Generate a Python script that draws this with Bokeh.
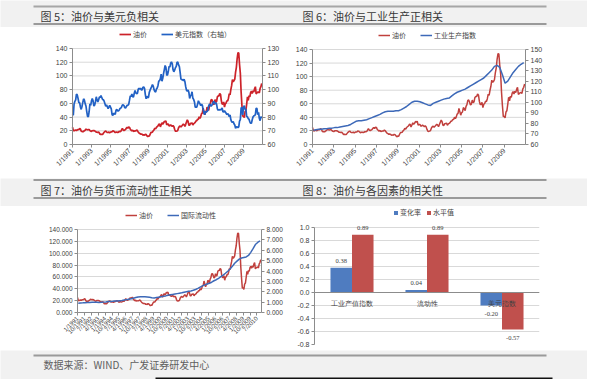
import re
import numpy as np
from bokeh.plotting import figure
from bokeh.models import (Range1d, LinearAxis, FixedTicker, Legend, LegendItem, Span, Label,
                          ColumnDataSource, FactorRange, Spacer, NumeralTickFormatter, BoxAnnotation)
from bokeh.layouts import row, column
from bokeh.transform import dodge
from bokeh.embed import file_html
from bokeh.resources import INLINE

# ---------------- data ----------------
start_year = 1991
oil = [25.2, 20.5, 19.9, 20.8, 21.2, 20.2, 21.4, 21.7, 21.9, 23.2, 22.5, 19.5,
       18.8, 19.0, 18.9, 20.2, 20.9, 22.4, 21.8, 21.4, 21.9, 21.7, 20.3, 19.4,
       19.1, 20.1, 20.3, 20.3, 19.9, 19.1, 17.9, 18.0, 17.5, 18.1, 16.7, 14.5,
       15.0, 14.8, 14.7, 16.4, 17.9, 19.1, 19.7, 18.4, 17.5, 17.7, 18.1, 17.2,
       18.0, 18.6, 18.5, 19.9, 19.7, 18.5, 17.3, 18.0, 18.2, 17.4, 18.0, 19.0,
       18.9, 19.1, 21.3, 23.5, 21.2, 20.4, 21.3, 21.9, 23.9, 24.9, 23.7, 25.4,
       25.2, 22.2, 21.0, 19.7, 20.8, 19.2, 19.6, 19.9, 19.8, 21.3, 20.2, 18.3,
       16.7, 16.1, 15.0, 15.4, 14.9, 13.7, 14.2, 13.5, 15.0, 14.4, 12.9, 11.3,
       12.5, 12.0, 14.7, 17.3, 17.8, 17.9, 20.1, 21.3, 23.9, 22.6, 25.0, 26.1,
       27.2, 29.4, 29.9, 25.7, 28.8, 31.8, 29.7, 31.2, 33.9, 33.1, 34.4, 28.5,
       29.6, 29.6, 27.2, 27.4, 28.6, 27.6, 26.4, 27.4, 26.2, 22.2, 19.6, 19.3,
       19.7, 20.7, 24.4, 26.2, 27.0, 25.5, 26.9, 28.4, 29.7, 28.9, 26.3, 29.4,
       32.9, 35.9, 33.6, 28.3, 28.1, 30.7, 30.8, 31.6, 28.3, 30.3, 31.1, 32.2,
       34.3, 34.7, 36.8, 36.7, 40.3, 38.0, 40.7, 44.9, 45.9, 53.1, 48.5, 43.3,
       46.8, 48.0, 54.3, 53.0, 49.8, 56.3, 58.7, 65.0, 65.6, 62.4, 58.3, 59.4,
       65.5, 61.6, 62.7, 69.4, 70.8, 70.9, 74.4, 73.0, 63.8, 58.9, 59.1, 62.0,
       54.5, 59.3, 60.4, 63.9, 63.5, 67.5, 74.1, 72.4, 79.9, 85.8, 94.8, 91.7,
       93.0, 95.4, 105.5, 112.6, 125.4, 133.9, 133.4, 116.7, 104.1, 76.6, 57.3, 41.1,
       41.7, 39.1, 47.9, 49.7, 59.0, 69.6, 64.2, 71.1, 69.4, 75.7, 78.0, 74.5,
       78.3, 76.4, 81.2, 84.3, 73.7, 75.3, 76.3, 76.6, 75.2, 81.9, 84.3, 89.2]

usd = [82.2, 81.3, 89.5, 91.5, 92.5, 96.8, 96.2, 93.6, 90.6, 90.6, 87.4, 85.6,
       87.7, 90.7, 93.3, 92.4, 89.8, 88.1, 84.0, 80.6, 80.2, 83.9, 89.6, 88.6,
       91.8, 93.5, 91.9, 88.0, 88.8, 91.2, 94.8, 92.6, 91.0, 92.6, 94.6, 94.4,
       95.7, 94.1, 92.9, 92.6, 91.6, 89.7, 87.8, 88.9, 87.5, 86.1, 87.2, 88.6,
       87.3, 86.0, 81.8, 81.1, 82.8, 82.3, 82.0, 85.1, 85.6, 84.5, 84.4, 85.1,
       86.3, 86.5, 87.4, 88.8, 89.0, 88.4, 86.9, 86.5, 87.6, 88.6, 88.6, 89.2,
       92.3, 95.5, 95.0, 96.8, 94.8, 94.6, 97.4, 99.4, 97.6, 97.0, 97.3, 100.3,
       101.1, 100.3, 101.1, 99.9, 99.9, 101.7, 101.9, 100.9, 96.4, 93.3, 95.2, 94.2,
       94.3, 98.0, 99.6, 101.0, 102.2, 103.7, 102.6, 100.0, 98.7, 98.2, 100.4, 101.2,
       103.1, 106.3, 106.5, 108.0, 111.3, 106.1, 108.2, 111.7, 114.6, 117.6, 116.2, 110.6,
       110.7, 113.4, 116.9, 116.4, 119.3, 120.3, 118.9, 114.6, 113.0, 114.2, 116.0, 116.8,
       119.8, 120.2, 118.0, 116.8, 112.4, 107.7, 107.3, 107.1, 106.7, 107.6, 105.8, 102.2,
       99.6, 98.9, 99.7, 98.0, 93.6, 95.4, 96.2, 98.4, 93.9, 92.9, 91.2, 87.3,
       87.2, 87.3, 89.3, 91.9, 90.7, 89.6, 88.4, 89.4, 88.6, 85.5, 82.9, 81.7,
       84.2, 83.5, 84.2, 84.8, 88.1, 89.5, 89.0, 87.8, 88.6, 89.7, 91.3, 91.2,
       89.4, 90.6, 89.4, 86.0, 85.0, 85.5, 85.1, 85.5, 85.5, 86.7, 83.9, 83.7,
       84.6, 83.6, 82.9, 81.7, 82.4, 82.0, 80.3, 81.5, 78.1, 76.6, 76.2, 76.7,
       75.1, 74.2, 71.8, 72.9, 72.9, 72.4, 72.9, 77.0, 78.2, 86.5, 87.2, 81.5,
       86.9, 88.4, 85.6, 85.9, 80.5, 80.1, 78.9, 78.4, 76.5, 75.5, 75.5, 78.0,
       80.0, 80.9, 81.1, 81.8, 86.5, 86.2, 81.7, 83.5, 79.0, 77.4, 80.3, 79.0]

# quarterly industrial production index (right axis of chart 6)
ip_q = [73.5, 74.0, 74.5, 74.5, 75.0, 75.0, 75.5, 75.5, 76.0, 76.0, 76.5, 77.0,
        77.5, 78.0, 79.0, 80.5, 82.0, 82.5, 82.5, 83.0, 83.5, 84.5, 85.5, 86.5,
        87.5, 88.5, 90.0, 91.0, 91.5, 91.5, 91.5, 92.0, 92.0, 93.0, 94.5, 96.0,
        98.0, 100.0, 101.0, 101.0, 100.5, 99.5, 98.5, 97.5, 97.0, 99.0, 100.0, 101.0,
        102.0, 103.0, 103.5, 104.0, 106.0, 108.0, 109.5, 110.5, 111.5, 112.5, 114.0, 115.5,
        117.0, 118.5, 120.0, 121.5, 123.0, 125.5, 128.0, 130.5, 134.0, 135.0, 133.0, 126.0,
        118.0, 120.0, 124.0, 128.0, 131.0, 134.0, 136.0, 137.5]

# quarterly global liquidity (right axis of chart 7)
liq_q = [0.90, 0.92, 0.93, 0.95, 0.96, 0.97, 0.98, 0.98, 0.98, 0.97, 0.98, 1.00,
         1.02, 1.05, 1.07, 1.08, 1.10, 1.12, 1.14, 1.16, 1.20, 1.24, 1.28, 1.32,
         1.38, 1.44, 1.50, 1.52, 1.53, 1.52, 1.50, 1.46, 1.42, 1.40, 1.44, 1.48,
         1.52, 1.56, 1.60, 1.66, 1.70, 1.74, 1.78, 1.82, 1.86, 1.90, 1.96, 2.00,
         2.04, 2.08, 2.14, 2.22, 2.32, 2.44, 2.56, 2.66, 2.74, 2.82, 2.92, 3.06,
         3.16, 3.30, 3.45, 3.60, 3.78, 3.98, 4.20, 4.45, 4.75, 4.95, 5.15, 5.25,
         5.30, 5.35, 5.50, 5.80, 6.15, 6.55, 6.75, 6.90]

factors = ["工业产值指数", "流动性", "美元指数"]
change_rate = [0.38, 0.04, -0.20]
level_value = [0.89, 0.89, -0.57]

years_2 = list(range(1991, 2010, 2))          # tick years for charts 5, 6
tick_months_7 = list(range(0, 240, 9))         # tick months for chart 7
left_ticks = list(range(0, 141, 20))

titles = ["图 5：油价与美元负相关", "图 6：油价与工业生产正相关",
          "图 7：油价与货币流动性正相关", "图 8：油价与各因素的相关性"]
source_text = "数据来源：WIND、广发证券研发中心"

# ---------------- style ----------------
BG = "#f1f1f1"
RED5, BLUE5 = "#CC2229", "#2261C4"
RED, BLUE = "#C0403D", "#3D69B8"
BAR_BLUE, BAR_RED = "#4F7CC0", "#C0504D"
GRID = "#d9d9d9"
CJK = "Noto Sans CJK SC"
NUM = "Liberation Sans"
W = 587

xm = start_year + np.arange(len(oil)) / 12.0
xq = start_year + (np.arange(len(ip_q)) * 3 + 1) / 12.0


def vpad(v0, v1, px1, px0, frame_top, frame_bottom):
    """Vertical range: v1 sits px1, v0 sits px0 pixels below the canvas top."""
    k = (px0 - px1) / (v1 - v0)
    return v0 - (frame_bottom - px0) / k, v1 + (px1 - frame_top) / k


def hpad(v0, v1, px0, px1, frame_left, frame_right):
    """Horizontal range: v0 sits px0, v1 sits px1 pixels right of the canvas left."""
    k = (px1 - px0) / (v1 - v0)
    return v0 - (px0 - frame_left) / k, v1 + (frame_right - px1) / k


def style_axis(ax, size="7px"):
    ax.axis_line_color = "#8c8c8c"
    ax.major_tick_line_color = "#8c8c8c"
    ax.major_tick_out = 3
    ax.major_tick_in = 0
    ax.minor_tick_out = 0
    ax.minor_tick_in = 0
    ax.minor_tick_line_color = None
    ax.major_label_text_font = NUM
    ax.major_label_text_font_size = size
    ax.major_label_text_color = "#404040"
    ax.major_label_standoff = 2


def base_fig(w, h, l, r, t, b, yr, x_range, x_axis_location="below", y_axis_location="left"):
    p = figure(width=w, height=h, output_backend="svg", toolbar_location=None, title=None,
               x_range=x_range, y_range=Range1d(*yr), x_axis_location=x_axis_location,
               y_axis_location=y_axis_location,
               min_border_left=l, min_border_right=r, min_border_top=t, min_border_bottom=b)
    p.background_fill_color = "white"
    p.border_fill_color = "white"
    p.outline_line_color = None
    p.xgrid.visible = False
    p.ygrid.grid_line_color = GRID
    return p


def add_legend(p, items, vx, vy, glyph_w=12, glyph_h=6, spacing=8):
    lg = Legend(items=items, location=(vx, vy), orientation="horizontal",
                label_text_font=CJK, label_text_font_size="7px", label_text_color="#404040",
                glyph_width=glyph_w, glyph_height=glyph_h, label_standoff=2, spacing=spacing,
                padding=0, margin=0, border_line_color=None, background_fill_alpha=0,
                label_height=8)
    p.add_layout(lg)


def dual_line_chart(w, h, x_px, y_px, right_lo, right_hi, right_step, red, blue, x_blue, y_blue,
                    red_col, blue_col, lw, legend_labels, legend_xy):
    """Whole canvas is the frame; axes are pinned at the data edges so that every
    tick label (including the first rotated one) stays visible."""
    xr = hpad(1991, 2011, x_px[0], x_px[1], 0, w)
    yr = vpad(0, 140, y_px[0], y_px[1], 0, h)
    p = base_fig(w, h, 0, 0, 0, 0, yr, Range1d(*xr))
    p.ygrid.visible = False
    scale = (right_hi - right_lo) / 140.0
    p.extra_y_ranges = {"r": Range1d(right_lo + yr[0] * scale, right_lo + yr[1] * scale)}
    # horizontal gridlines, limited to the plot area
    p.segment(x0=[1991] * len(left_ticks), x1=[2011] * len(left_ticks), y0=left_ticks,
              y1=left_ticks, line_color=GRID, line_width=1)
    ra = p.line(xm, red, line_color=red_col, line_width=lw)
    rb = p.line(x_blue, y_blue, line_color=blue_col, line_width=lw, y_range_name="r")
    yl = p.yaxis[0]
    yl.ticker = FixedTicker(ticks=left_ticks)
    yl.bounds = (0, 140)
    yl.fixed_location = 1991
    ax_r = LinearAxis(y_range_name="r",
                      ticker=FixedTicker(ticks=list(range(right_lo, right_hi + 1, right_step))),
                      bounds=(right_lo, right_hi), fixed_location=2011)
    p.add_layout(ax_r, "right")
    p.xaxis.ticker = FixedTicker(ticks=years_2)
    p.xaxis.major_label_overrides = {y: f"1/{y}" for y in years_2}
    p.xaxis.major_label_orientation = np.pi / 4
    p.xaxis.fixed_location = 0
    p.xaxis.bounds = (1991, 2011)
    for ax in p.axis:
        style_axis(ax)
    add_legend(p, [LegendItem(label=legend_labels[0], renderers=[ra]),
                   LegendItem(label=legend_labels[1], renderers=[rb])], *legend_xy)
    return p


# ---------------- chart 5 ----------------
p5 = dual_line_chart(246, 151, (33, 223), (21, 117), 60, 130, 10, oil, usd, xm, usd,
                     RED5, BLUE5, 1.7, ("油价", "美元指数（右轴）"), (80, 139))

# ---------------- chart 6 ----------------
p6 = dual_line_chart(255, 151, (22, 235), (22, 117), 60, 150, 10, oil, ip_q, xq, ip_q,
                     RED, BLUE, 1.5, ("油价", "工业生产指数"), (88, 138))

# ---------------- chart 7 ----------------
yr7 = vpad(0, 140, 23, 106, 0, 106)
p7 = base_fig(246, 144, 38, 21, 0, 38, yr7, Range1d(1991, 2011))
p7.extra_y_ranges = {"r": Range1d(yr7[0] * 8 / 140, yr7[1] * 8 / 140)}
r7a = p7.line(xm, oil, line_color=RED, line_width=1.5)
r7b = p7.line(xq, liq_q, line_color=BLUE, line_width=1.5, y_range_name="r")
p7.yaxis[0].ticker = FixedTicker(ticks=left_ticks)
p7.yaxis[0].formatter = NumeralTickFormatter(format="0.000")
p7.yaxis[0].bounds = (0, 140)
ax7r = LinearAxis(y_range_name="r", ticker=FixedTicker(ticks=list(range(0, 9))),
                  formatter=NumeralTickFormatter(format="0.000"), bounds=(0, 8))
p7.add_layout(ax7r, "right")
t7 = [start_year + m / 12.0 for m in tick_months_7]
p7.xaxis.ticker = FixedTicker(ticks=t7)
p7.xaxis.major_label_overrides = {t: f"{m % 12 + 1}/{start_year + m // 12}"
                                  for t, m in zip(t7, tick_months_7)}
p7.xaxis.major_label_orientation = np.pi / 4
for ax in p7.axis:
    style_axis(ax, "6.5px")
p7.xaxis.major_label_text_font_size = "6px"
add_legend(p7, [LegendItem(label="油价", renderers=[r7a]),
                LegendItem(label="国际流动性", renderers=[r7b])], 48, 92)

# ---------------- chart 8 ----------------
src8 = ColumnDataSource(dict(
    cat=factors, chg=change_rate, lvl=level_value,
    chg_t=[f"{v:.2f}" for v in change_rate], lvl_t=[f"{v:.2f}" for v in level_value],
    chg_off=[-7 if v >= 0 else 8 for v in change_rate],
    lvl_off=[-7 if v >= 0 else 8 for v in level_value],
    zero=[0.0] * len(factors)))
yr8 = vpad(-0.8, 1.0, 21, 138, 0, 138)
p8 = base_fig(255, 144, 24, 6, 0, 6, yr8, FactorRange(factors=factors, range_padding=0),
              x_axis_location=None)
bw = 0.287
b1 = p8.vbar(x=dodge("cat", -bw / 2, range=p8.x_range), top="chg", width=bw, source=src8,
             fill_color=BAR_BLUE, line_color=None)
b2 = p8.vbar(x=dodge("cat", bw / 2, range=p8.x_range), top="lvl", width=bw, source=src8,
             fill_color=BAR_RED, line_color=None)
p8.add_layout(Span(location=0, dimension="width", line_color="#8c8c8c", line_width=1))
p8.text(x=dodge("cat", -bw / 2, range=p8.x_range), y="chg", text="chg_t", y_offset="chg_off",
        source=src8, text_font=NUM, text_font_size="6.5px", text_color="#404040",
        text_align="center", text_baseline="middle")
p8.text(x=dodge("cat", bw / 2, range=p8.x_range), y="lvl", text="lvl_t", y_offset="lvl_off",
        source=src8, text_font=NUM, text_font_size="6.5px", text_color="#404040",
        text_align="center", text_baseline="middle")
p8.text(x="cat", y="zero", text="cat", y_offset=11, source=src8, text_font=CJK,
        text_font_size="7px", text_color="#404040", text_align="center", text_baseline="middle")
p8.yaxis.ticker = FixedTicker(ticks=[round(v, 1) for v in np.arange(-0.8, 1.01, 0.2)])
p8.yaxis.formatter = NumeralTickFormatter(format="0.0")
p8.yaxis.bounds = (-0.8, 1.0)
for ax in p8.yaxis:
    style_axis(ax)
add_legend(p8, [LegendItem(label="变化率", renderers=[b1]),
                LegendItem(label="水平值", renderers=[b2])], 79, 127,
           glyph_w=5, glyph_h=5, spacing=5)


# ---------------- title / decoration strips (page coordinates) ----------------
def strip(h, bars, labels):
    p = figure(width=W, height=h, x_range=Range1d(0, W), y_range=Range1d(h, 0),
               output_backend="svg", toolbar_location=None, min_border=0, title=None,
               x_axis_location=None, y_axis_location=None)
    p.grid.visible = False
    p.outline_line_color = None
    p.background_fill_color = BG
    p.border_fill_color = BG
    for left, right, top, bottom, col in bars:
        p.add_layout(BoxAnnotation(left=left, right=right, top=top, bottom=bottom,
                                   fill_color=col, fill_alpha=1, line_color=None))
    for x, y, t, size, col in labels:
        p.add_layout(Label(x=x, y=y, text=t, text_font=CJK, text_font_size=size,
                           text_color=col, text_baseline="middle"))
    return p


s1 = strip(27, [(33, 546, 5, 7, "#a6a6a6"), (33, 546, 22.5, 24.5, "#9a9a9a")],
           [(40, 15, titles[0], "11px", "#383838"), (302, 15, titles[1], "11px", "#383838")])
s2 = strip(28, [(33, 546, 0.5, 2.5, "#9a9a9a"), (33, 546, 18.5, 20.5, "#9a9a9a")],
           [(40, 11, titles[2], "11px", "#383838"), (302, 11, titles[3], "11px", "#383838")])
s3 = strip(29, [(33, 546, 4, 6, "#9a9a9a"), (155, 552, 27, 29, "#111111")],
           [(43, 14, source_text, "10px", "#606060")])


def solo(p):
    # each chart sits in its own column so that its frame is laid out on its own
    return column(p, spacing=0)


layout = column(
    s1,
    row(Spacer(width=39, height=151), solo(p5), Spacer(width=5, height=151), solo(p6),
        Spacer(width=42, height=151), spacing=0),
    s2,
    row(Spacer(width=39, height=144), solo(p7), Spacer(width=5, height=144), solo(p8),
        Spacer(width=42, height=144), spacing=0),
    s3,
    spacing=0)

html = file_html(layout, INLINE)
html = re.sub(r"<body([^>]*)>", r'<body\1 style="background-color:%s;">' % BG, html, count=1)
open("out.html", "w").write(html)
